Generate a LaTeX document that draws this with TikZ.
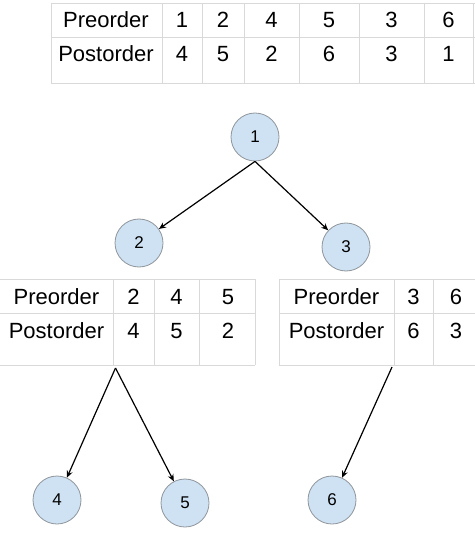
\documentclass[tikz,border=0pt]{standalone}
\usepackage{fontspec}
\setmainfont{Liberation Sans}
\usetikzlibrary{arrows.meta}
\definecolor{nodefill}{HTML}{CFE2F3}
\definecolor{nodeline}{HTML}{8F959B}
\definecolor{gridline}{HTML}{D9D9D9}
\begin{document}
\begin{tikzpicture}[x=1pt,y=-1pt,
  tnode/.style={circle,draw=nodeline,fill=nodefill,line width=0.8pt,minimum size=48pt,inner sep=0pt,font=\fontsize{17}{20}\selectfont},
  tline/.style={draw=gridline,line width=0.9pt},
  ttext/.style={anchor=base,inner sep=0pt,font=\fontsize{22}{25}\selectfont},
  conn/.style={line width=1.2pt,-{Stealth[length=7pt,width=6pt]}}]
\useasboundingbox (0,0) rectangle (474,534);
% top table
\draw[tline] (51,3) -- (480,3) (51,37) -- (480,37) (51,83) -- (480,83);
\foreach \x in {51,162,202,244,299,359,424,473} \draw[tline] (\x,3) -- (\x,83);
\node[ttext] (tp) at (106,28) {Preorder};
\node[ttext] (tq) at (106,62) {Postorder};
\foreach \x/\a/\b [count=\i] in {182/1/4,223/2/5,271.5/4/2,329/5/6,391.5/3/3,448.5/6/1}{
  \node[ttext] (ta\i) at (\x,28) {\a};
  \node[ttext] (tb\i) at (\x,62) {\b};
}
% left table
\draw[tline] (-2,279) -- (255,279) (-2,313) -- (255,313) (-2,365) -- (255,365);
\foreach \x in {113,154,199,255} \draw[tline] (\x,279) -- (\x,365);
\node[ttext] (lp) at (56.5,304) {Preorder};
\node[ttext] (lq) at (56.5,338) {Postorder};
\foreach \x/\a/\b [count=\i] in {133.5/2/4,176.5/4/5,228/5/2}{
  \node[ttext] (la\i) at (\x,304) {\a};
  \node[ttext] (lb\i) at (\x,338) {\b};
}
% right table
\draw[tline] (279,279) -- (480,279) (279,313) -- (480,313) (279,365) -- (480,365);
\foreach \x in {279,394,433} \draw[tline] (\x,279) -- (\x,365);
\node[ttext] (rp) at (336.5,304) {Preorder};
\node[ttext] (rq) at (336.5,338) {Postorder};
\foreach \x/\a/\b [count=\i] in {413.5/3/6,456/6/3}{
  \node[ttext] (ra\i) at (\x,304) {\a};
  \node[ttext] (rb\i) at (\x,338) {\b};
}
% tree nodes
\node[tnode] (n1) at (255,137) {1};
\node[tnode] (n2) at (139,243) {2};
\node[tnode] (n3) at (346,247) {3};
\node[tnode] (n4) at (57,500) {4};
\node[tnode] (n5) at (185,503) {5};
\node[tnode] (n6) at (332,500) {6};
\coordinate (ls) at (115.5,368);
\coordinate (rs) at (392,367);
% connectors
\draw[conn] (n1.south) -- (n2);
\draw[conn] (n1.south) -- (n3);
\draw[conn] (ls) -- (n4);
\draw[conn] (ls) -- (n5);
\draw[conn] (rs) -- (n6);
\end{tikzpicture}
\end{document}
